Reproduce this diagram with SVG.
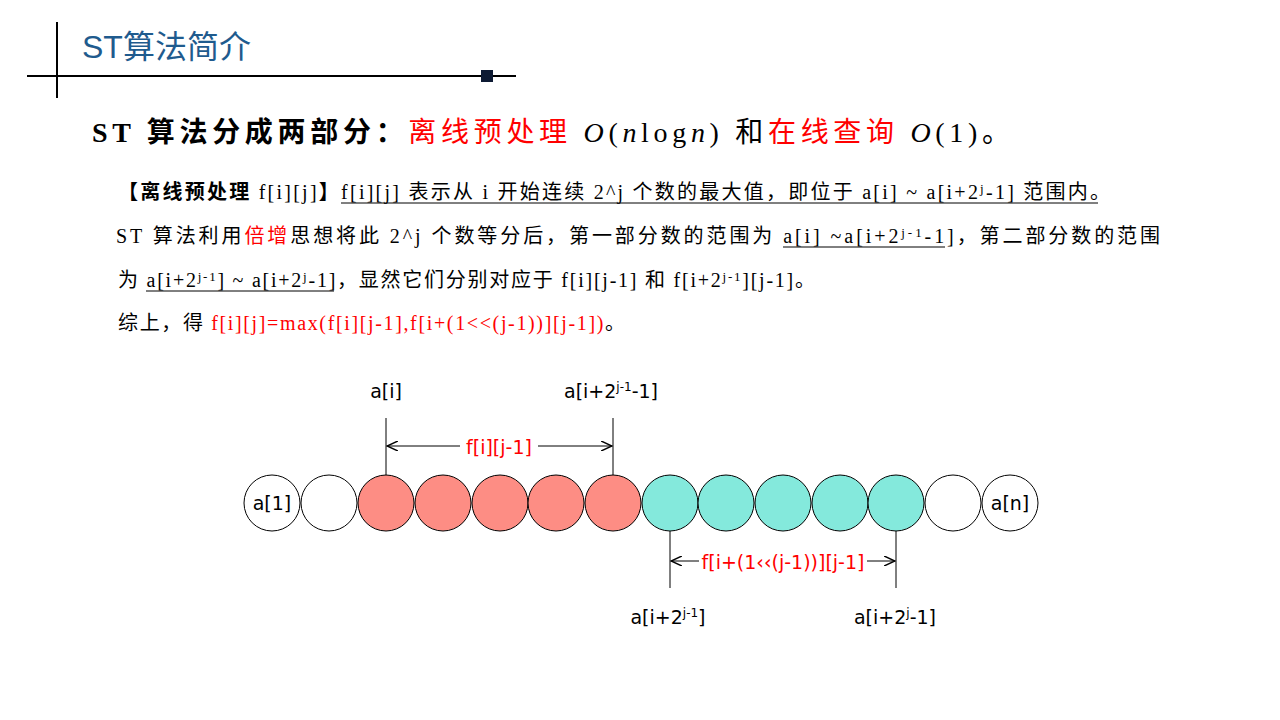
<svg xmlns="http://www.w3.org/2000/svg" width="1280" height="720" viewBox="0 0 1280 720">
<style>
.s{font-family:"Liberation Serif","Noto Sans CJK SC",serif;font-size:20px;fill:#000}
.d{font-family:"DejaVu Sans","Liberation Sans",sans-serif;font-size:19px;fill:#000}
.r{fill:#f00}
.c{stroke:#000;stroke-width:1}
.ln{stroke:#000;stroke-width:1;fill:none}
</style>
<defs><marker id="a" markerWidth="12" markerHeight="10" refX="11" refY="5" orient="auto-start-reverse" markerUnits="userSpaceOnUse"><path d="M0,0 L11,5 L0,10" fill="none" stroke="#000" stroke-width="1.5"/></marker></defs>
<rect width="1280" height="720" fill="#fff"/>
<g id="header">
<line x1="57" y1="22" x2="57" y2="98" stroke="#000" stroke-width="2"/>
<line x1="27" y1="76" x2="516" y2="76" stroke="#000" stroke-width="2"/>
<rect x="481" y="70" width="12" height="12" fill="#0d1a33"/>
<text x="82" y="58" font-family="Liberation Sans,Noto Sans CJK SC,sans-serif" font-size="32" fill="#1f5b8e">ST算法简介</text>
</g>
<text x="92" y="142" textLength="918" lengthAdjust="spacing" font-family="Liberation Serif,Noto Sans CJK SC,serif" font-size="28" font-weight="bold">ST 算法分成两部分：<tspan fill="#f00" font-weight="normal">离线预处理 </tspan><tspan font-weight="normal" font-style="italic">O</tspan><tspan font-weight="normal">(<tspan font-style="italic">n</tspan>log<tspan font-style="italic">n</tspan>) 和</tspan><tspan fill="#f00" font-weight="normal">在线查询 </tspan><tspan font-weight="normal"><tspan font-style="italic">O</tspan>(1)。</tspan></text>
<text class="s" x="118" y="199" textLength="992" lengthAdjust="spacing"><tspan font-weight="bold">【离线预处理 </tspan>f[i][j]<tspan font-weight="bold">】</tspan>f[i][j] 表示从 i 开始连续 2^j 个数的最大值，即位于 a[i] ~ a[i+2<tspan font-size="13" dy="-6">j</tspan><tspan dy="6">-1] 范围内。</tspan></text>
<line x1="341" y1="203" x2="1098" y2="203" stroke="#000"/>
<text class="s" x="116" y="243" textLength="1044" lengthAdjust="spacing">ST 算法利用<tspan class="r">倍增</tspan>思想将此 2^j 个数等分后，第一部分数的范围为 a[i] ~a[i+2<tspan font-size="13" dy="-6">j-1</tspan><tspan dy="6">-1]，第二部分数的范围</tspan></text>
<line x1="783" y1="247" x2="945" y2="247" stroke="#000"/>
<text class="s" x="118" y="287" textLength="697" lengthAdjust="spacing">为 a[i+2<tspan font-size="13" dy="-6">j-1</tspan><tspan dy="6">] ~ a[i+2</tspan><tspan font-size="13" dy="-6">j</tspan><tspan dy="6">-1]，显然它们分别对应于 f[i][j-1] 和 f[i+2</tspan><tspan font-size="13" dy="-6">j-1</tspan><tspan dy="6">][j-1]。</tspan></text>
<line x1="146" y1="291" x2="334" y2="291" stroke="#000"/>
<text class="s" x="118" y="330" textLength="507" lengthAdjust="spacing">综上，得 <tspan class="r">f[i][j]=max(f[i][j-1],f[i+(1&lt;&lt;(j-1))][j-1])</tspan>。</text>
<g id="n1"><ellipse cx="272" cy="503" rx="28" ry="28" fill="#fff" class="c"/><text class="d" x="272" y="510" text-anchor="middle">a[1]</text></g>
<g id="n2"><ellipse cx="329" cy="503" rx="28" ry="28" fill="#fff" class="c"/></g>
<g id="n3"><ellipse cx="386" cy="503" rx="28" ry="28" fill="#fd8d84" class="c"/></g>
<g id="n4"><ellipse cx="443" cy="503" rx="28" ry="28" fill="#fd8d84" class="c"/></g>
<g id="n5"><ellipse cx="500" cy="503" rx="28" ry="28" fill="#fd8d84" class="c"/></g>
<g id="n6"><ellipse cx="556" cy="503" rx="28" ry="28" fill="#fd8d84" class="c"/></g>
<g id="n7"><ellipse cx="613" cy="503" rx="28" ry="28" fill="#fd8d84" class="c"/></g>
<g id="n8"><ellipse cx="670" cy="503" rx="28" ry="28" fill="#84e9dc" class="c"/></g>
<g id="n9"><ellipse cx="726" cy="503" rx="28" ry="28" fill="#84e9dc" class="c"/></g>
<g id="n10"><ellipse cx="783" cy="503" rx="28" ry="28" fill="#84e9dc" class="c"/></g>
<g id="n11"><ellipse cx="840" cy="503" rx="28" ry="28" fill="#84e9dc" class="c"/></g>
<g id="n12"><ellipse cx="896" cy="503" rx="28" ry="28" fill="#84e9dc" class="c"/></g>
<g id="n13"><ellipse cx="953" cy="503" rx="28" ry="28" fill="#fff" class="c"/></g>
<g id="n14"><ellipse cx="1010" cy="503" rx="28" ry="28" fill="#fff" class="c"/><text class="d" x="1010" y="510" text-anchor="middle">a[n]</text></g>
<g id="connectors">
<line class="ln" x1="386" y1="418" x2="386" y2="475"/>
<line class="ln" x1="613" y1="418" x2="613" y2="475"/>
<line class="ln" x1="670" y1="531" x2="670" y2="588"/>
<line class="ln" x1="896" y1="531" x2="896" y2="588"/>
<line class="ln" x1="387" y1="446" x2="460" y2="446" marker-start="url(#a)"/>
<line class="ln" x1="538" y1="446" x2="612" y2="446" marker-end="url(#a)"/>
<line class="ln" x1="671" y1="561" x2="699" y2="561" marker-start="url(#a)"/>
<line class="ln" x1="867" y1="561" x2="895" y2="561" marker-end="url(#a)"/>
</g>
<text class="d" x="386" y="398" text-anchor="middle">a[i]</text>
<text class="d" x="611" y="398" text-anchor="middle">a[i+2<tspan font-size="12" dy="-7">j-1</tspan><tspan dy="7">-1]</tspan></text>
<text class="d r" x="499" y="454" text-anchor="middle">f[i][j-1]</text>
<text class="d r" x="783" y="569" text-anchor="middle">f[i+(1‹‹(j-1))][j-1]</text>
<text class="d" x="668" y="624" text-anchor="middle">a[i+2<tspan font-size="12" dy="-7">j-1</tspan><tspan dy="7">]</tspan></text>
<text class="d" x="895" y="624" text-anchor="middle">a[i+2<tspan font-size="12" dy="-7">j</tspan><tspan dy="7">-1]</tspan></text>
</svg>
